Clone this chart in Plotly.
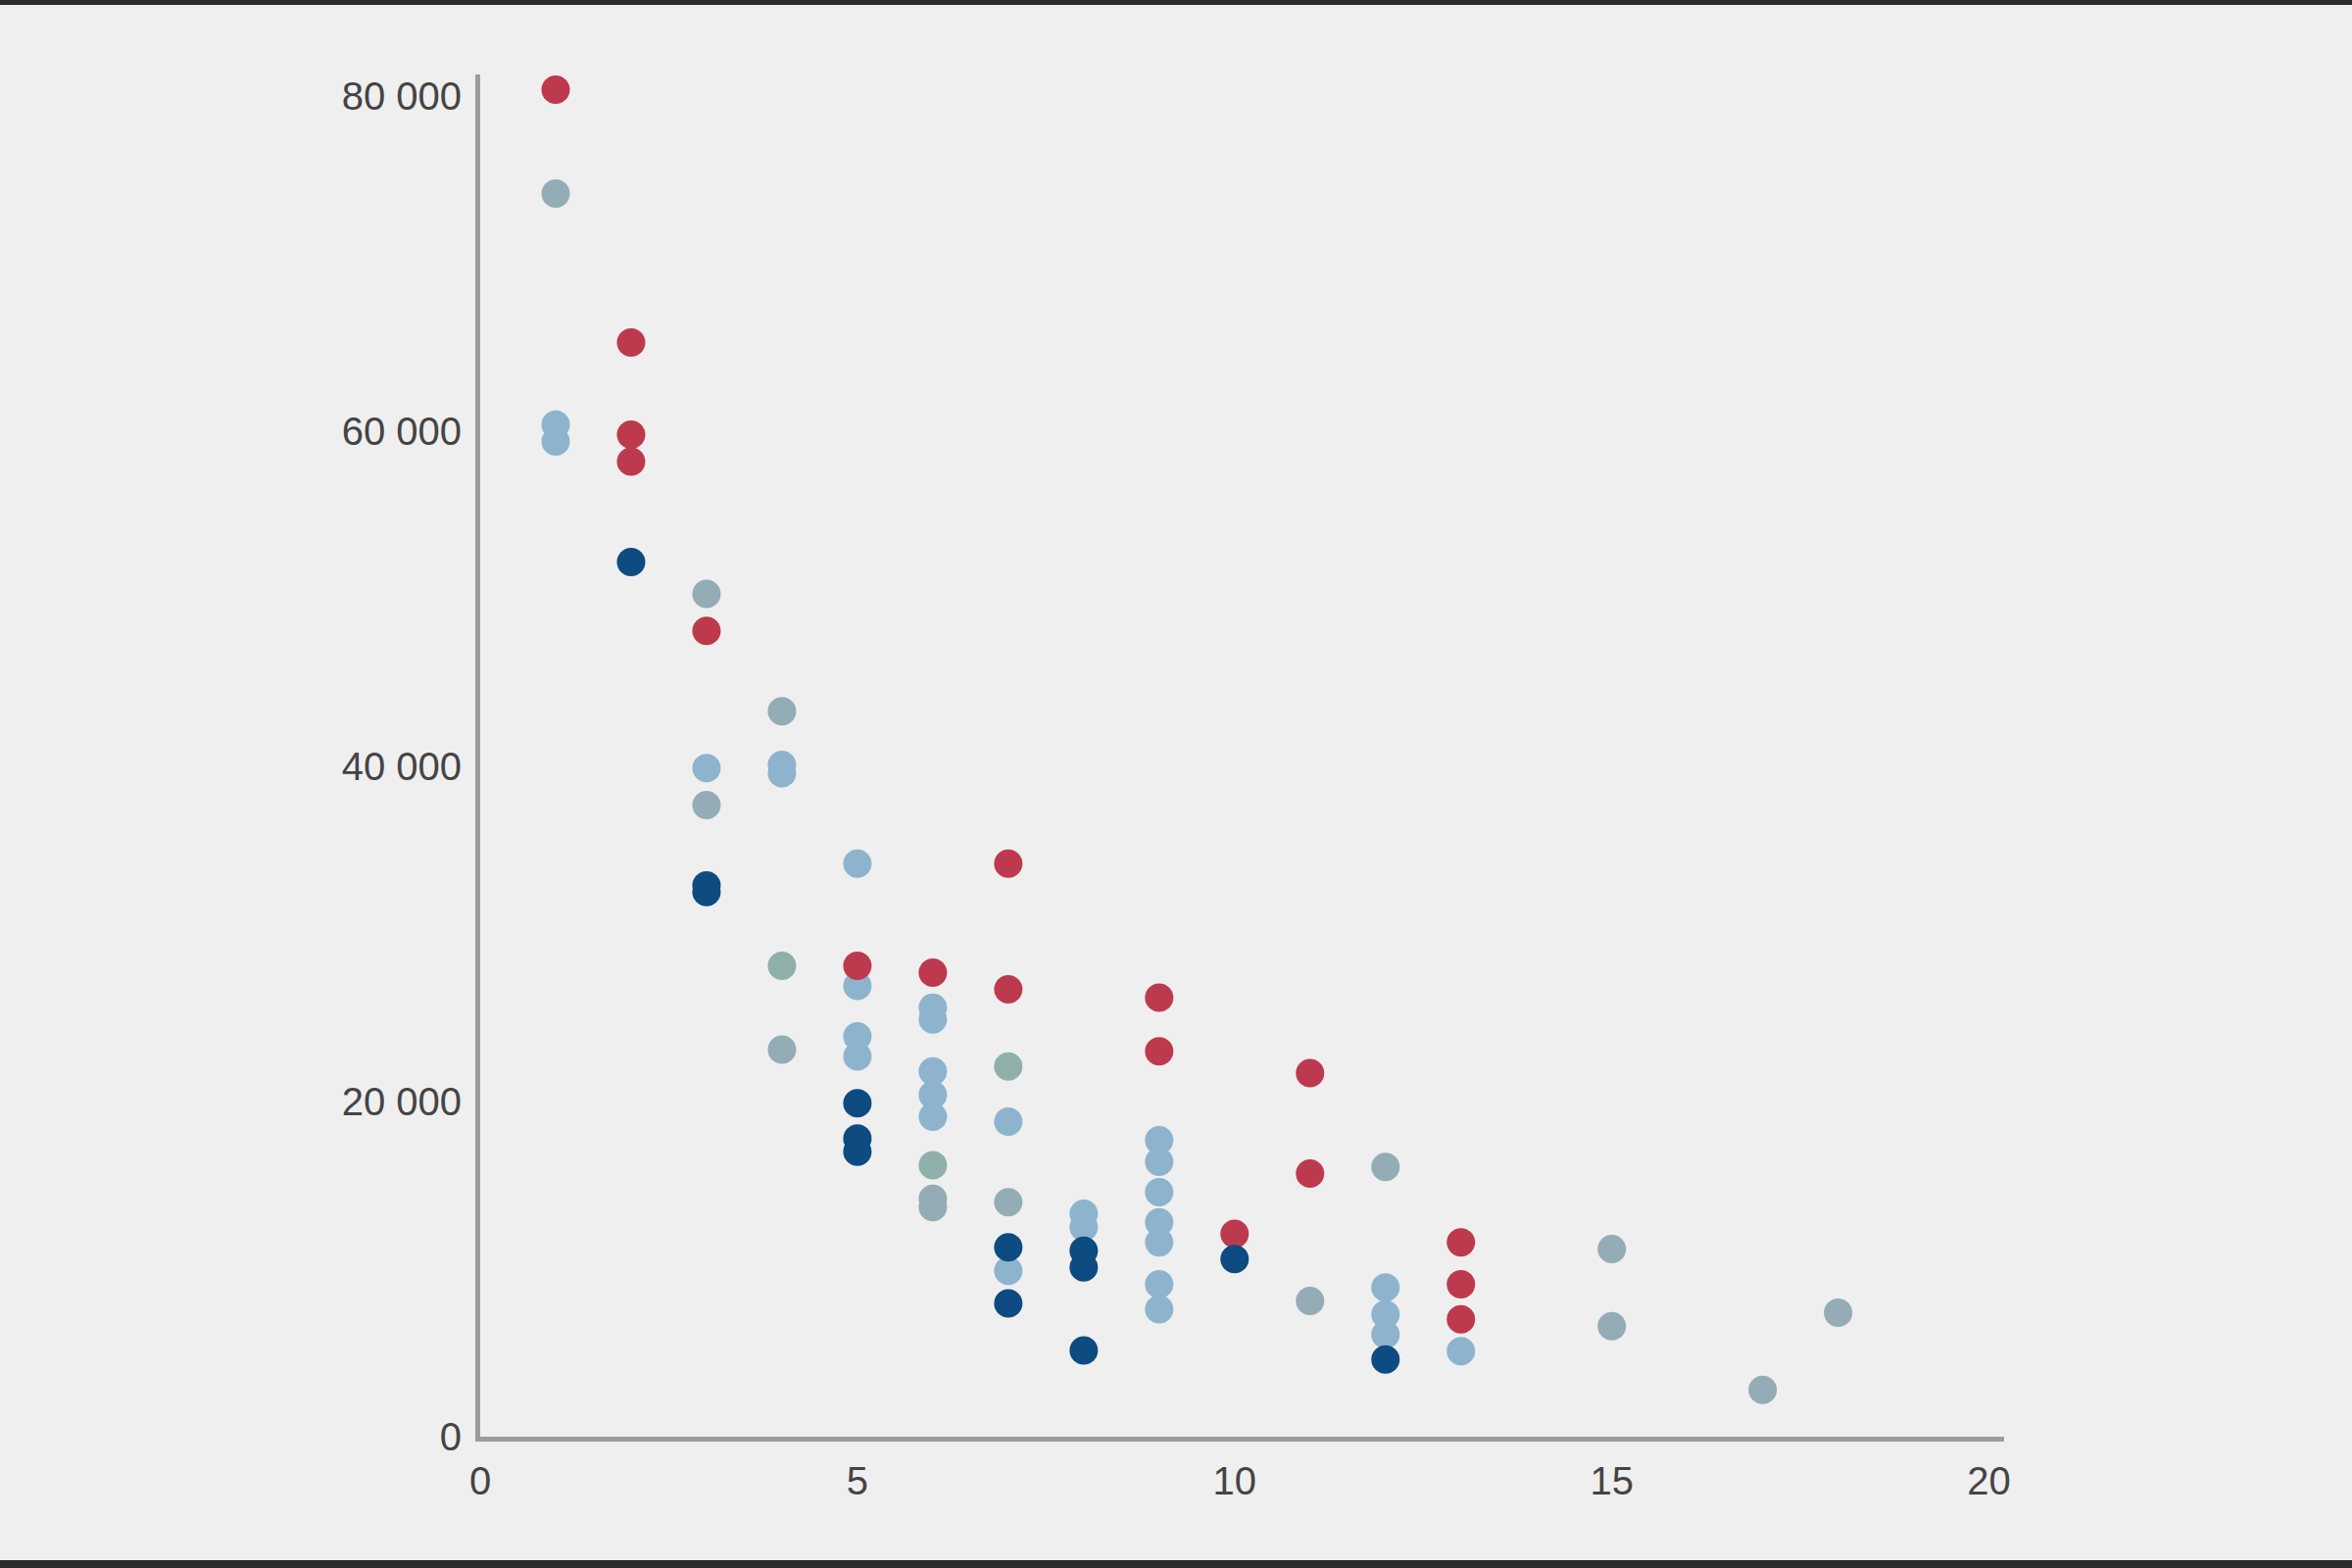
import plotly.graph_objects as go

# ---- data ----
red_x = [1, 2, 2, 2, 3, 5, 6, 7, 7, 9, 9, 10, 11, 11, 13, 13, 13]
red_y = [80400, 65300, 59800, 58200, 48100, 28100, 27700, 34200, 26700,
         26200, 23000, 12100, 21700, 15700, 11600, 9100, 7000]

dark_x = [2, 3, 3, 5, 5, 5, 7, 7, 8, 8, 8, 10, 12]
dark_y = [52200, 32900, 32500, 19900, 17800, 17000, 11300, 7950,
          11100, 10100, 5150, 10600, 4600]

light_x = [1, 1, 3, 4, 4, 5, 5, 5, 5, 6, 6, 6, 6, 6, 7, 7, 8, 8,
           9, 9, 9, 9, 9, 9, 9, 12, 12, 12, 13]
light_y = [60400, 59400, 39900, 40100, 39600, 34200, 26900, 23900, 22700,
           25600, 24900, 21800, 20400, 19100, 18800, 9900, 13300, 12500,
           17700, 16400, 14600, 12800, 11600, 9100, 7600, 8900, 7300, 6100, 5100]

grey_x = [1, 3, 3, 4, 4, 6, 6, 7, 11, 12, 15, 15, 17, 18]
grey_y = [74200, 50300, 37700, 43300, 23100, 14200, 13700, 14000, 8100,
          16100, 11200, 6600, 2800, 7400]

green_x = [4, 6, 7]
green_y = [28100, 16200, 22100]

y_ticks = [0, 20000, 40000, 60000, 80000]
y_tick_text = ["0", "20 000", "40 000", "60 000", "80 000"]
x_ticks = [0, 5, 10, 15, 20]
x_tick_text = ["0", "5", "10", "15", "20"]

# ---- styles ----
W, H = 2400, 1600
ML, MR, MT, MB = 490, 355, 76, 134
BG = "#efefef"
MSIZE = 29

fig = go.Figure()

def add(xs, ys, color, name):
    fig.add_trace(go.Scatter(
        x=xs, y=ys, mode="markers", name=name,
        marker=dict(size=MSIZE, color=color, line=dict(width=0)),
        hoverinfo="x+y"))

add(grey_x, grey_y, "#93acb6", "grey")
add(green_x, green_y, "#8fb0aa", "green")
add(light_x, light_y, "#8db4cc", "light")
add(red_x, red_y, "#bd3a4e", "red")
add(dark_x, dark_y, "#0d4b81", "dark")

axis_font = dict(family="Liberation Sans, Arial, sans-serif", size=40, color="#444444")

fig.update_xaxes(
    range=[0, 20.2], tickvals=x_ticks, ticktext=x_tick_text,
    showgrid=False, zeroline=False, showline=True, linecolor="#9c9c9c",
    linewidth=5, ticks="", tickfont=axis_font, ticklabelstandoff=6)
fig.update_yaxes(
    range=[0, 81300], tickvals=y_ticks, ticktext=y_tick_text,
    showgrid=False, zeroline=False, showline=True, linecolor="#9c9c9c",
    linewidth=5, ticks="", tickfont=axis_font, ticklabelstandoff=6)

# frame bands (top and bottom dark edges of the picture)
ph = H - MT - MB
pw = W - ML - MR
def py(px):
    return (H - MB - px) / ph
def pxx(px):
    return (px - ML) / pw

shapes = [
    dict(type="rect", xref="paper", yref="paper", x0=pxx(0), x1=pxx(W),
         y0=py(0), y1=py(5), fillcolor="#2b2b2b", line=dict(width=0), layer="below"),
    dict(type="rect", xref="paper", yref="paper", x0=pxx(0), x1=pxx(W),
         y0=py(1592), y1=py(H), fillcolor="#2b2b2b", line=dict(width=0), layer="below"),
]

fig.update_layout(
    width=W, height=H,
    margin=dict(l=ML, r=MR, t=MT, b=MB),
    paper_bgcolor=BG, plot_bgcolor=BG,
    showlegend=False, shapes=shapes,
)

fig.write_html("out.html",
               config={"displayModeBar": False},
               post_script="document.body.style.margin='0';document.body.style.background='#efefef';")
